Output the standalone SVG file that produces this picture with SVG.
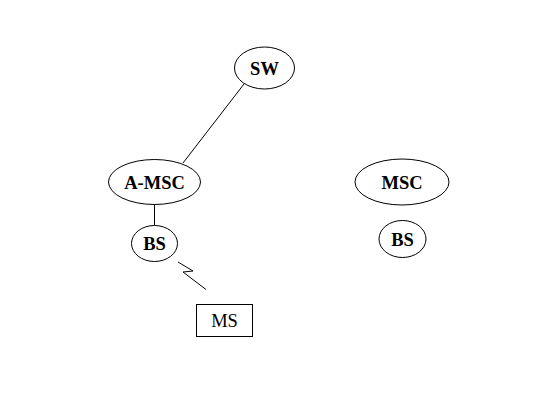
<svg xmlns="http://www.w3.org/2000/svg" width="560" height="420" viewBox="0 0 560 420">
<style>
.s{fill:none;stroke:#000;stroke-width:1}
.n{fill:#fff;stroke:#000;stroke-width:1}
text{font-family:"Liberation Serif","Times New Roman",serif;font-size:18.500px;fill:#000;text-anchor:middle}
.b{font-weight:bold}
</style>
<rect width="560" height="420" fill="#fff"/>
<g id="connectors">
<line class="s" x1="244" y1="84" x2="183" y2="163"/>
<line class="s" x1="154.500" y1="204" x2="154.500" y2="225"/>
<polyline class="s" points="178,262 193,271 183,272 206,289.500"/>
</g>
<g id="sw"><ellipse class="n" cx="264.500" cy="68" rx="30" ry="21"/><text class="b" x="264.500" y="74.500">SW</text></g>
<g id="a-msc"><ellipse class="n" cx="154.500" cy="182" rx="46" ry="22.500"/><text class="b" x="154.500" y="189">A-MSC</text></g>
<g id="bs1"><ellipse class="n" cx="154.500" cy="243.500" rx="23" ry="18"/><text class="b" x="154.500" y="249.500">BS</text></g>
<g id="ms"><rect class="n" x="196.500" y="304.500" width="56" height="32"/><text x="224.500" y="327">MS</text></g>
<g id="msc"><ellipse class="n" cx="402" cy="182" rx="47" ry="23"/><text class="b" x="402" y="189">MSC</text></g>
<g id="bs2"><ellipse class="n" cx="402.500" cy="239" rx="23.500" ry="18.500"/><text class="b" x="402.500" y="245.500">BS</text></g>
</svg>
